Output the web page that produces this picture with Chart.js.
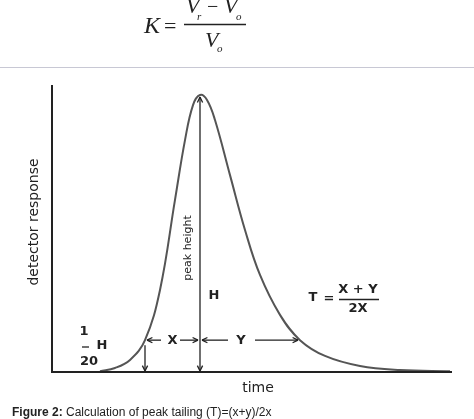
<!DOCTYPE html>
<html>
<head>
<meta charset="utf-8">
<script src="https://cdn.jsdelivr.net/npm/chart.js@4/dist/chart.umd.min.js"></script>
<style>
  html, body { margin: 0; padding: 0; background: #fff; }
  #wrap { position: relative; width: 474px; height: 419px; }
</style>
</head>
<body>
<div id="wrap"><canvas id="peakChart" width="474" height="419"></canvas></div>
<script>
// peak profile (time vs detector response, 0-100)
const timeValues = [12, 15.75, 19.5, 23.25, 27, 30.75, 33.25, 35.25, 37, 38.75, 40.75, 44.5, 48.25, 52, 57, 62, 68.25, 77, 87, 99.5];
const responseValues = [0.3, 1.4, 4.2, 11.1, 28.6, 60, 80.8, 93, 96.5, 94.8, 87.8, 68.6, 49.5, 33.8, 19.9, 11.1, 5.6, 2.1, 0.7, 0.3];

const peakTime = 37;
const peakHeight = 96.5;
const leftCross = 23.25;
const rightCross = 62;
const crossLevel = 11.1;

function arrowHead(ctx, x, y, dir) {
    // dir: angle in radians the arrow points to
    const s = 6;
    ctx.beginPath();
    ctx.moveTo(x, y);
    ctx.lineTo(x - s * Math.cos(dir - 0.45), y - s * Math.sin(dir - 0.45));
    ctx.moveTo(x, y);
    ctx.lineTo(x - s * Math.cos(dir + 0.45), y - s * Math.sin(dir + 0.45));
    ctx.stroke();
}

const annotations = {
    id: "annotations",
    afterDraw(chart) {
        const ctx = chart.ctx;
        const xs = chart.scales.x, ys = chart.scales.y;
        const a = chart.chartArea;
        ctx.save();
        ctx.strokeStyle = "#222";
        ctx.fillStyle = "#222";

        // formula at top
        ctx.font = "italic 24px 'Liberation Serif'";
        ctx.textBaseline = "alphabetic";
        ctx.fillText("K", 144, 33);
        ctx.font = "22px 'Liberation Serif'";
        ctx.fillText("=", 164, 33);
        ctx.font = "italic 22px 'Liberation Serif'";
        ctx.fillText("V", 186, 13);
        ctx.fillText("V", 224, 13);
        ctx.fillText("V", 205, 47);
        ctx.font = "italic 11px 'Liberation Serif'";
        ctx.fillText("r", 197, 20);
        ctx.fillText("o", 236, 20);
        ctx.fillText("o", 217, 52);
        ctx.font = "20px 'Liberation Serif'";
        ctx.fillText("\u2212", 207, 13);
        ctx.lineWidth = 1.3;
        ctx.beginPath(); ctx.moveTo(184, 24.5); ctx.lineTo(246, 24.5); ctx.stroke();

        ctx.strokeStyle = "#c8c8d4";
        ctx.lineWidth = 1;
        ctx.beginPath(); ctx.moveTo(0, 67.5); ctx.lineTo(474, 67.5); ctx.stroke();
        ctx.strokeStyle = "#222";

        // axes
        ctx.lineWidth = 2;
        ctx.beginPath();
        ctx.moveTo(a.left, a.top);
        ctx.lineTo(a.left, a.bottom);
        ctx.lineTo(a.right, a.bottom);
        ctx.stroke();

        ctx.lineWidth = 1.3;
        const px = xs.getPixelForValue(peakTime);
        const py = ys.getPixelForValue(peakHeight);
        const base = ys.getPixelForValue(0);
        const lx = xs.getPixelForValue(leftCross);
        const rx = xs.getPixelForValue(rightCross);
        const cy = ys.getPixelForValue(crossLevel);

        // peak height line
        ctx.beginPath(); ctx.moveTo(px, py + 2); ctx.lineTo(px, base - 1); ctx.stroke();
        arrowHead(ctx, px, py + 2, -Math.PI / 2);
        arrowHead(ctx, px, base - 1, Math.PI / 2);
        // 1/20 H arrow
        ctx.beginPath(); ctx.moveTo(lx, cy + 5); ctx.lineTo(lx, base - 1); ctx.stroke();
        arrowHead(ctx, lx, base - 1, Math.PI / 2);
        // X segment
        ctx.beginPath(); ctx.moveTo(lx + 2, cy); ctx.lineTo(lx + 16, cy); ctx.stroke();
        arrowHead(ctx, lx + 2, cy, Math.PI);
        ctx.beginPath(); ctx.moveTo(px - 20, cy); ctx.lineTo(px - 2, cy); ctx.stroke();
        arrowHead(ctx, px - 2, cy, 0);
        // Y segment
        ctx.beginPath(); ctx.moveTo(px + 2, cy); ctx.lineTo(px + 28, cy); ctx.stroke();
        arrowHead(ctx, px + 2, cy, Math.PI);
        ctx.beginPath(); ctx.moveTo(px + 55, cy); ctx.lineTo(rx - 2, cy); ctx.stroke();
        arrowHead(ctx, rx - 2, cy, 0);

        ctx.font = "bold 13px 'DejaVu Sans'";
        ctx.textAlign = "center";
        ctx.textBaseline = "middle";
        ctx.fillText("X", (lx + px) / 2, cy);
        ctx.fillText("Y", px + 41, cy);
        ctx.fillText("H", px + 14, 296);

        // 1/20 H
        ctx.fillText("1", 84, 332);
        ctx.fillText("20", 89, 362);
        ctx.beginPath(); ctx.moveTo(82, 347); ctx.lineTo(89, 347); ctx.stroke();
        ctx.fillText("H", 102, 346);

        // T formula
        ctx.fillText("T", 313, 298);
        ctx.fillText("=", 329, 299);
        ctx.fillText("X + Y", 358, 290);
        ctx.fillText("2X", 358, 309);
        ctx.beginPath(); ctx.moveTo(339, 299.5); ctx.lineTo(379, 299.5); ctx.stroke();

        // axis titles
        ctx.font = "14px 'DejaVu Sans'";
        ctx.fillText("time", 258, 388);
        ctx.save();
        ctx.translate(34, 222);
        ctx.rotate(-Math.PI / 2);
        ctx.fillText("detector response", 0, 0);
        ctx.restore();
        ctx.save();
        ctx.font = "11px 'DejaVu Sans'";
        ctx.translate(px - 12, 248);
        ctx.rotate(-Math.PI / 2);
        ctx.fillText("peak height", 0, 0);
        ctx.restore();

        // caption
        ctx.textAlign = "left";
        ctx.font = "bold 12px 'Liberation Sans'";
        ctx.fillText("Figure 2:", 12, 413);
        const w = ctx.measureText("Figure 2: ").width;
        ctx.font = "12px 'Liberation Sans'";
        ctx.fillText("Calculation of peak tailing (T)=(x+y)/2x", 12 + w, 413);
        ctx.restore();
    }
};

new Chart(document.getElementById("peakChart"), {
    type: "line",
    data: {
        datasets: [{
            data: timeValues.map((t, i) => ({ x: t, y: responseValues[i] })),
            borderColor: "#555",
            borderWidth: 2,
            pointRadius: 0,
            tension: 0.4,
            fill: false
        }]
    },
    options: {
        responsive: false,
        animation: false,
        layout: { padding: { left: 52, right: 22, top: 85, bottom: 47 } },
        plugins: { legend: { display: false }, tooltip: { enabled: false } },
        scales: {
            x: { type: "linear", min: 0, max: 100, display: false },
            y: { min: 0, max: 100, display: false }
        }
    },
    plugins: [annotations]
});
</script>
</body>
</html>
